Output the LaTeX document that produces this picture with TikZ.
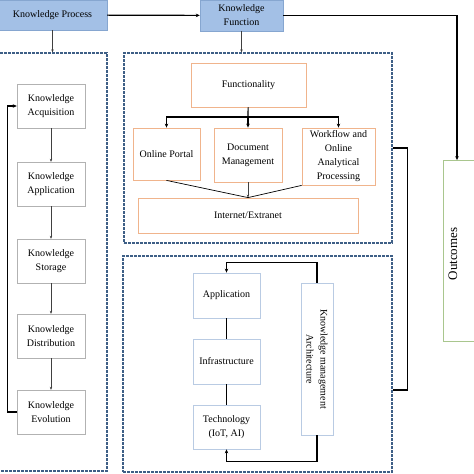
\documentclass[tikz,border=0pt]{standalone}
\usepackage{fontspec}
\setmainfont{Liberation Serif}
\usetikzlibrary{arrows.meta}
\definecolor{kmblue}{HTML}{A3C0E6}
\definecolor{kmedge}{HTML}{86A6D0}
\definecolor{kmdash}{HTML}{3E5F86}
\definecolor{kmorange}{HTML}{F0B48C}
\definecolor{kmgreen}{HTML}{A9C68E}
\definecolor{kmsteel}{HTML}{B9CBE3}
\begin{document}
\begin{tikzpicture}[x=1pt,y=-1pt,
  every node/.style={font=\fontsize{10}{14}\selectfont,align=center,inner sep=0pt},
  title/.style={draw=kmedge,fill=kmblue},
  area/.style={draw=kmdash,line width=1.3pt,dash pattern=on 2.6pt off 1.4pt},
  stage/.style={draw=black!30,minimum width=68pt,minimum height=44pt},
  func/.style={draw=kmorange,line width=0.8pt},
  layer/.style={draw=kmsteel,line width=0.8pt,minimum width=67pt,minimum height=45pt},
  link/.style={line width=1.2pt,-{Stealth[length=4pt,width=3.5pt]}},
  thinlink/.style={line width=0.5pt,draw=black!75,-{Stealth[length=3pt,width=2.5pt]}}]
\useasboundingbox (0,0) rectangle (474,474);
% top boxes
\node[title,minimum width=109pt,minimum height=30pt] (kp) at (52.5,15) {Knowledge Process};
\node[title,minimum width=83pt,minimum height=31pt] (kf) at (241.5,15.5) {Knowledge\\Function};
\node[draw=kmgreen,line width=0.8pt,minimum width=36pt,minimum height=181pt,
  label={[rotate=90,xshift=-3pt,yshift=8pt,font=\fontsize{13}{15}\selectfont]center:Outcomes}] (outcomes) at (461,251) {};
% dashed areas
\node[area,minimum width=110pt,minimum height=418pt] (procarea) at (52,262) {};
\node[area,minimum width=268pt,minimum height=190pt] (funcarea) at (258,148) {};
\node[area,minimum width=269pt,minimum height=216pt] (archarea) at (257.5,364) {};
% knowledge process
\node[stage] (acq) at (51,106) {Knowledge\\Acquisition};
\node[stage] (appl) at (51,184) {Knowledge\\Application};
\node[stage] (stor) at (51,261) {Knowledge\\Storage};
\node[stage] (dist) at (51,336) {Knowledge\\Distribution};
\node[stage] (evol) at (51,412) {Knowledge\\Evolution};
% knowledge function
\node[func,minimum width=115pt,minimum height=44pt] (functionality) at (248.5,85) {Functionality};
\node[func,minimum width=67pt,minimum height=52pt] (portal) at (166.5,154) {Online Portal};
\node[func,minimum width=68pt,minimum height=54pt] (docmgmt) at (248,155) {Document\\Management};
\node[func,minimum width=73pt,minimum height=57pt] (workflow) at (338.5,156.5) {Workflow and\\Online\\Analytical\\Processing};
\node[func,minimum width=220pt,minimum height=35pt] (internet) at (248,215.5) {Internet/Extranet};
% architecture
\node[layer] (application) at (226.5,295.5) {Application};
\node[layer] (infra) at (226.5,361.5) {Infrastructure};
\node[layer,minimum height=44pt] (tech) at (226.5,427) {Technology\\(IoT, AI)};
\node[layer,minimum width=32pt,minimum height=152pt,
  label={[rotate=-90,align=center]center:Knowledge management\\Architecture}] (kma) at (317,359) {};
% connectors
\draw[link] (kp) -- (kf);
\draw[link] (kf.east) -| ([xshift=-4pt]outcomes.north);
\draw[thinlink] (kp) -- (kp |- procarea.north);
\draw[thinlink] (kf) -- (kf |- funcarea.north);
\draw[thinlink] (acq) -- (appl);
\draw[thinlink] (appl) -- (stor);
\draw[thinlink] (stor) -- (dist);
\draw[thinlink] (dist) -- (evol);
\draw[link] (evol.west) -- ++(-9,0) |- (acq.west);
\coordinate (split) at (248,117);
\draw[line width=1.2pt] (functionality) -- (split);
\draw[link] (split) -| (portal);
\draw[link] (split) -- (docmgmt);
\draw[link] (split) -| (workflow);
\draw[line width=0.7pt] (portal.south) -- (internet.north);
\draw[line width=0.7pt] (workflow.south west) -- (internet.north);
\draw[thinlink] (docmgmt) -- (internet);
\draw[line width=0.7pt] (application) -- (infra);
\draw[line width=0.7pt] (infra) -- (tech);
\draw[link] (kma.north) -- ++(0,-20) -| (application);
\draw[link] (kma.south) -- ++(0,26) -| (tech);
\draw[line width=1.2pt] (funcarea.east) -- ++(15,0) |- (archarea.east |- 0,390);
\end{tikzpicture}
\end{document}
